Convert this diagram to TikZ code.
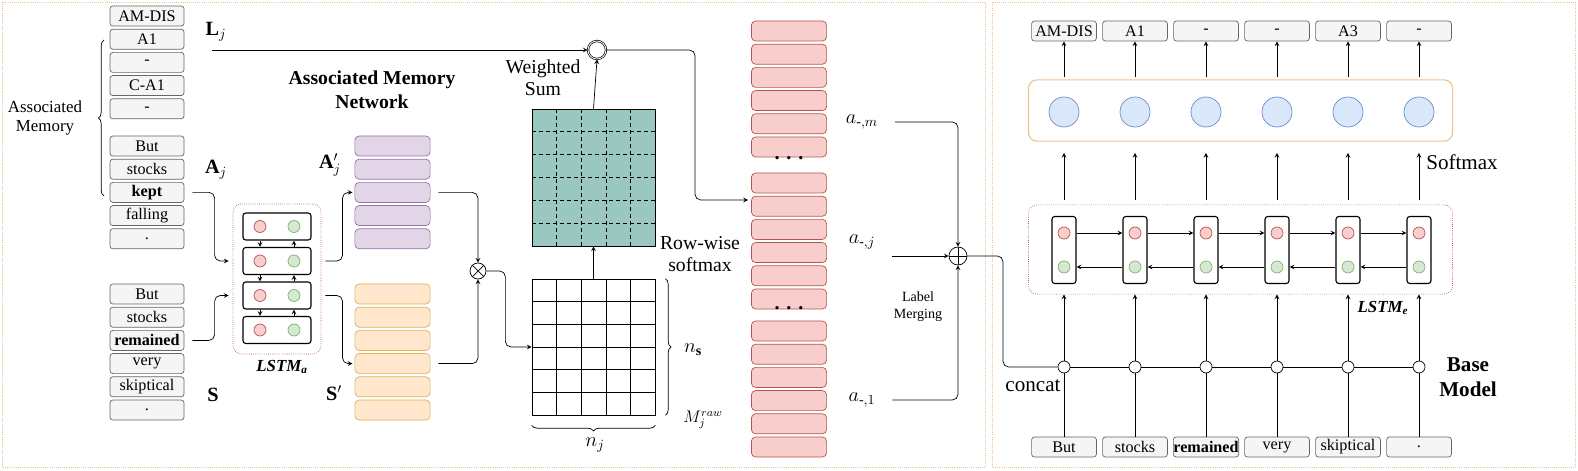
\documentclass[tikz,border=0pt]{standalone}
\usepackage{amsmath}
\usepackage{fontspec}
\setmainfont{Liberation Serif}
\usetikzlibrary{positioning,calc,decorations.pathreplacing}
\definecolor{wfill}{HTML}{F5F5F5}
\definecolor{wdraw}{HTML}{666666}
\definecolor{pfill}{HTML}{E1D5E7}
\definecolor{pdraw}{HTML}{9673A6}
\definecolor{ofill}{HTML}{FFE6CC}
\definecolor{odraw}{HTML}{D6B656}
\definecolor{rfill}{HTML}{F8CECC}
\definecolor{rdraw}{HTML}{B85450}
\definecolor{gfill}{HTML}{D5E8D4}
\definecolor{gdraw}{HTML}{82B366}
\definecolor{bfill}{HTML}{DAE8FC}
\definecolor{bdraw}{HTML}{6C8EBF}
\definecolor{tfill}{HTML}{9AC7BF}
\definecolor{frame}{HTML}{F0C090}
\begin{document}
\begin{tikzpicture}[
        x=0.025cm, y=-0.025cm,
        > = stealth, % arrow head style
        line width=0.5pt,
        word/.style={draw=wdraw, fill=wfill, rounded corners=2pt, minimum width=1.85cm, minimum height=0.5cm, inner sep=0pt, font=\fontsize{11.5}{13}\selectfont},
        tag/.style={word, minimum width=1.62cm},
        emb/.style={rounded corners=3pt, minimum width=1.88cm, minimum height=0.5cm, inner sep=0pt},
        cell/.style={draw, rounded corners=2pt, thick, inner sep=0pt},
        dot/.style={circle, inner sep=0pt, minimum size=0.3cm},
        op/.style={circle, draw, inner sep=0pt, minimum size=0.45cm},
        lbl/.style={font=\fontsize{13}{15}\selectfont, align=center}
    ]
\useasboundingbox (0,0) rectangle (1578,471);
\draw[frame, densely dotted] (2,2) rectangle (985,467);
\draw[frame, densely dotted] (992,2) rectangle (1575,467);

% associated memory and sentence
\foreach \t [count=\i] in {AM-DIS,A1,-,C-A1,-}
    \node[word] (l\i) at (147,{16+23.2*(\i-1)}) {\t};
\foreach \t [count=\i] in {But,stocks,\textbf{kept},falling,{.}}
    \node[word] (k\i) at (147,{146+23.2*(\i-1)}) {\t};
\foreach \t [count=\i] in {But,stocks,\textbf{remained},very,skiptical,{.}}
    \node[word] (s\i) at (147,{294+23.2*(\i-1)}) {\t};
\draw[decorate, decoration={brace, amplitude=4pt}] (104,196) -- (104,40);
\node[lbl, font=\fontsize{12}{14}\selectfont] (am) at (45,118) {Associated\\Memory};

\node[font=\Large\bfseries] (Lj) at (216,32) {L$_{j}$};
\node[font=\Large\bfseries] (Aj) at (216,170) {A$_{j}$};
\node[font=\Large\bfseries] (Apj) at (330,165) {A$'_{j}$};
\node[font=\Large\bfseries] (S) at (213,395) {S};
\node[font=\Large\bfseries] (Sp) at (334,393) {S$'$};
\node[lbl, font=\fontsize{14}{17}\selectfont\bfseries] (amn) at (372,90) {Associated Memory\\Network};

% LSTM a
\node[draw=rdraw, densely dotted, rounded corners=6pt, minimum width=2.2cm, minimum height=3.75cm] (boxa) at (277,279) {};
\foreach \i in {1,...,4} {
    \node[cell, minimum width=1.7cm, minimum height=0.675cm] (ca\i) at (277,{226.5+34.5*(\i-1)}) {};
    \node[dot, draw=rdraw, fill=rfill] (ra\i) at (260,{226.5+34.5*(\i-1)}) {};
    \node[dot, draw=gdraw, fill=gfill] (ga\i) at (294,{226.5+34.5*(\i-1)}) {};
}
\foreach \i/\j in {1/2,2/3,3/4} {
    \draw[->] (ca\i.south -| ra\i) -- (ca\j.north -| ra\i);
    \draw[->] (ca\j.north -| ga\i) -- (ca\i.south -| ga\i);
}
\node[font=\large\bfseries\itshape] (lstma) at (282,367) {LSTM\textsubscript{\textit{a}}};

% projected memory and sentence
\foreach \i in {1,...,5}
    \node[emb, draw=pdraw, fill=pfill] (ap\i) at (392.5,{146+23.2*(\i-1)}) {};
\foreach \i in {1,...,6}
    \node[emb, draw=odraw, fill=ofill] (sp\i) at (392.5,{294+23.2*(\i-1)}) {};

\draw[->, rounded corners=4pt] ([xshift=0.2cm]k3.east) -| ([xshift=-0.45cm]boxa.west |- ca2) -- ([xshift=-0.1cm]boxa.west |- ca2);
\draw[->, rounded corners=4pt] ([xshift=0.2cm]s3.east) -| ([xshift=-0.45cm]boxa.west |- ca3) -- ([xshift=-0.1cm]boxa.west |- ca3);
\draw[->, rounded corners=4pt] ([xshift=0.1cm]boxa.east |- ca2) -| ([xshift=-0.3cm]ap3.west) -- ([xshift=-0.05cm]ap3.west);
\draw[->, rounded corners=4pt] ([xshift=0.1cm]boxa.east |- ca3) -| ([xshift=-0.3cm]sp4.west) -- ([xshift=-0.05cm]sp4.west);

% product and matrices
\node[op, minimum size=0.4cm, path picture={\draw (path picture bounding box.north west) -- (path picture bounding box.south east) (path picture bounding box.south west) -- (path picture bounding box.north east);}] (mul) at (478,271) {};
\draw[->, rounded corners=4pt] ([xshift=0.2cm]ap3.east) -| (mul.north);
\draw[->, rounded corners=4pt] ([xshift=0.2cm]sp4.east) -| (mul.south);

\node[draw, minimum width=3.075cm, minimum height=3.4cm, inner sep=0pt] (raw) at (593.5,347) {};
\node[draw, fill=tfill, minimum width=3.075cm, minimum height=3.425cm, inner sep=0pt] (att) at (593.5,177.5) {};
\foreach \i in {1,...,4} {
    \draw ($(raw.north west)!\i/5!(raw.north east)$) -- ($(raw.south west)!\i/5!(raw.south east)$);
    \draw[densely dashed] ($(att.north west)!\i/5!(att.north east)$) -- ($(att.south west)!\i/5!(att.south east)$);
}
\foreach \i in {1,...,5} {
    \draw ($(raw.north west)!\i/6!(raw.south west)$) -- ($(raw.north east)!\i/6!(raw.south east)$);
    \draw[densely dashed] ($(att.north west)!\i/6!(att.south west)$) -- ($(att.north east)!\i/6!(att.south east)$);
}
\draw[->, rounded corners=4pt] (mul.east) -- ++(19,0) |- (raw.west);
\draw[->] (raw.north) -- (att.south);
\draw[decorate, decoration={brace, amplitude=4pt}] ([xshift=0.25cm]raw.north east) -- ([xshift=0.25cm]raw.south east);
\draw[decorate, decoration={brace, amplitude=4pt}] ([yshift=-0.25cm]raw.south east) -- ([yshift=-0.25cm]raw.south west);
\node[font=\Large] (ns) at (693,350) {$n_{\mathbf{s}}$};
\node[font=\Large] (nj) at (595,445) {$n_{j}$};
\node[font=\large] (mraw) at (703,420) {$M_{j}^{raw}$};
\node[lbl, font=\fontsize{14}{16}\selectfont] (rws) at (700,254) {Row-wise\\softmax};

\node[op, double, minimum size=0.45cm] (ws) at (597,50) {};
\node[lbl, font=\fontsize{14}{16}\selectfont] (wsum) at (543,78) {Weighted\\Sum};
\coordinate (lstart) at (212,50);
\draw[->] (lstart) -- (ws.west);
\draw[->] (att.north) -- (ws.south);

% label memory
\foreach \i in {1,...,6} {
    \node[emb, draw=rdraw, fill=rfill] (pa\i) at (789,{31+23.2*(\i-1)}) {};
    \node[emb, draw=rdraw, fill=rfill] (pb\i) at (789,{183+23.2*(\i-1)}) {};
    \node[emb, draw=rdraw, fill=rfill] (pc\i) at (789,{331+23.2*(\i-1)}) {};
}
\node[font=\Large\bfseries] (d1) at (789,158) {. . .};
\node[font=\Large\bfseries] (d2) at (789,308) {. . .};
\coordinate (pin) at (748,200);
\draw[->, rounded corners=4pt] (ws.east) -- (695,50) -- (695,200) -- (pin);

% label merging
\node[op, path picture={\draw (path picture bounding box.north) -- (path picture bounding box.south) (path picture bounding box.west) -- (path picture bounding box.east);}] (mrg) at (958,256) {};
\node[font=\Large] (am1) at (862,122) {$a_{\textrm{-},m}$};
\node[font=\Large] (aj) at (862,242) {$a_{\textrm{-},j}$};
\node[font=\Large] (a1) at (862,400) {$a_{\textrm{-},1}$};
\draw[->, rounded corners=4pt] ([xshift=0.3cm]am1.east) -| (mrg.north);
\draw[->] ([xshift=0.3cm]aj.east |- mrg) -- (mrg.west);
\draw[->, rounded corners=4pt] ([xshift=0.3cm]a1.east) -| (mrg.south);
\node[lbl, font=\normalsize] (lm) at (918,307) {Label\\Merging};

% base model
\node[draw=frame, thick, rounded corners=6pt, minimum width=10.6cm, minimum height=1.53cm] (boxs) at (1240.5,110.5) {};
\node[draw=rdraw, densely dotted, rounded corners=6pt, minimum width=10.6cm, minimum height=2.23cm] (boxe) at (1240.5,249.5) {};
\foreach \t [count=\i] in {AM-DIS,A1,-,-,A3,-}
    \node[tag] (o\i) at ({993+71*\i},31) {\t};
\foreach \t [count=\i] in {But,stocks,\textbf{remained},very,skiptical,{.}}
    \node[tag] (w\i) at ({993+71*\i},447) {\t};
\foreach \i in {1,...,6} {
    \node[circle, draw=bdraw, fill=bfill, minimum size=0.75cm, inner sep=0pt] (b\i) at ({993+71*\i},112) {};
    \node[cell, minimum width=0.6cm, minimum height=1.675cm] (ce\i) at ({993+71*\i},250) {};
    \node[dot, draw=rdraw, fill=rfill] (re\i) at ({993+71*\i},233) {};
    \node[dot, draw=gdraw, fill=gfill] (ge\i) at ({993+71*\i},267) {};
    \node[circle, draw, fill=white, minimum size=0.3cm, inner sep=0pt] (c\i) at ({993+71*\i},367) {};
    \draw (w\i) -- (c\i);
    \draw[->] (c\i) -- (c\i |- boxe.south);
    \draw[->, shorten <=0.12cm, shorten >=0.28cm] (ce\i |- boxe.north) -- (ce\i |- boxs.south);
    \draw[->, shorten <=0.05cm] (b\i |- boxs.north) -- (o\i.south);
}
\foreach \i/\j in {1/2,2/3,3/4,4/5,5/6} {
    \draw[->] (ce\i.east |- re\i) -- (ce\j.west |- re\j);
    \draw[->] (ce\j.west |- ge\j) -- (ce\i.east |- ge\i);
    \draw (c\i.east) -- (c\j.west);
}
\draw[rounded corners=4pt] (mrg.east) -- (1003,256) |- (c1.west);
\node[font=\large\bfseries\itshape] (lstme) at (1383,308) {LSTM\textsubscript{\textit{e}}};
\node[font=\fontsize{15}{17}\selectfont] (smax) at (1462,162) {Softmax};
\node[font=\fontsize{15}{17}\selectfont] (cc) at (1033,386) {concat};
\node[lbl, font=\fontsize{15}{18}\selectfont\bfseries] (bm) at (1468,377) {Base\\Model};
\end{tikzpicture}
\end{document}
